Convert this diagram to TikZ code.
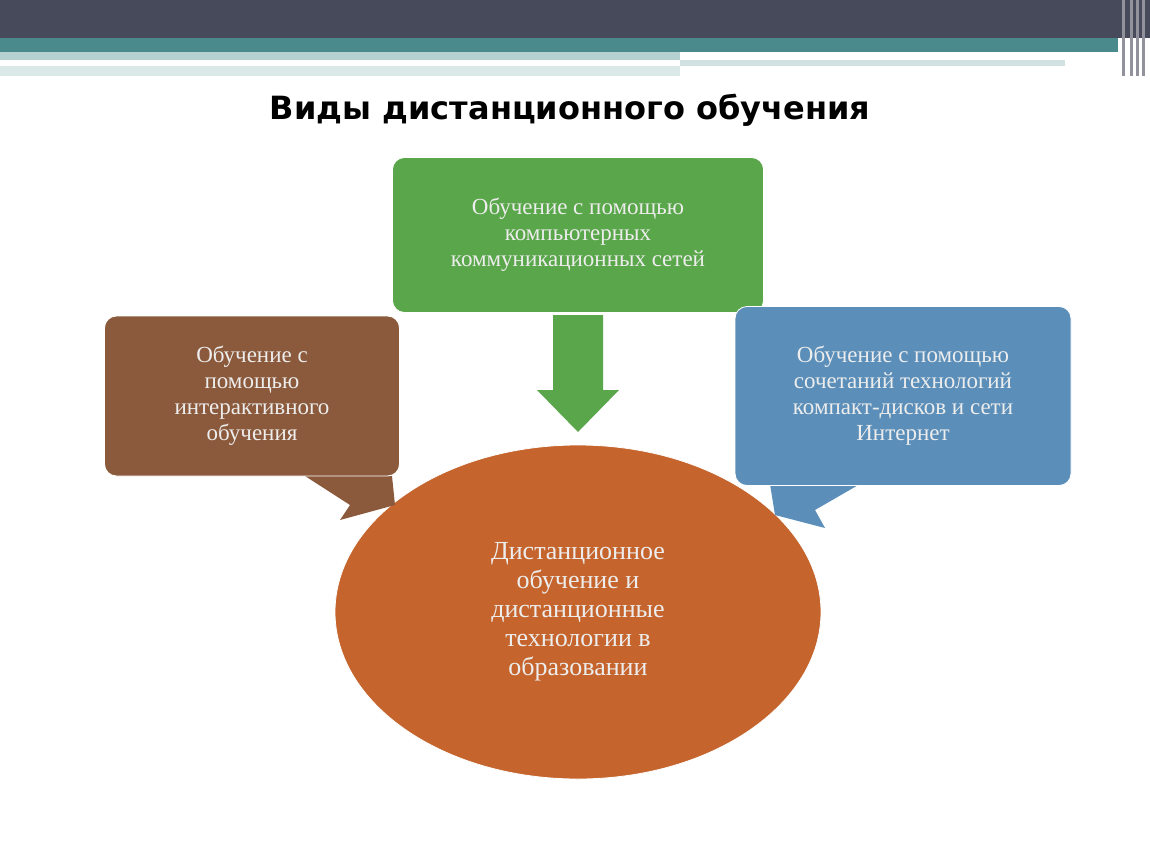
\documentclass[tikz,border=0pt]{standalone}
\usepackage{fontspec}
\setmainfont{Liberation Serif}
\newfontfamily\titlefont{DejaVu Sans}
\usetikzlibrary{positioning,shapes.geometric}
\definecolor{barGray}{HTML}{474A5A}
\definecolor{barTeal}{HTML}{4A8A8C}
\definecolor{netGreen}{HTML}{5AA64A}
\definecolor{boxBrown}{HTML}{8B5A3C}
\definecolor{boxBlue}{HTML}{5B8FB9}
\definecolor{coreOrange}{HTML}{C5652D}
\definecolor{boxText}{HTML}{EDEDED}
\begin{document}
\begin{tikzpicture}
	[x=1pt,y=-1pt,
	TypeBox/.style={rounded corners=12pt,draw=white,thick,text=boxText,align=center,
		font=\fontsize{23}{26}\selectfont},
	CoreNode/.style={ellipse,draw=white,thick,fill=coreOrange,text=boxText,align=center,
		font=\fontsize{26}{29}\selectfont}]
	
	% page and top bar
	\fill[white] (0,0) rectangle (1150,864);
	\fill[barGray] (0,0) rectangle (1150,38);
	\fill[barTeal] (0,38) rectangle (1118,52);
	\fill[barTeal!40] (0,52) rectangle (680,60);
	\fill[barTeal!25] (680,60) rectangle (1065,66);
	\fill[barTeal!20] (0,66) rectangle (680,76);
	\foreach \x in {1122,1130,1136,1142}
	\fill[barGray!60] (\x,0) rectangle (\x+3,76);
	
	% title
	\node (title) at (570,110) {\titlefont\bfseries\fontsize{32}{36}\selectfont Виды дистанционного обучения};
	
	% central ellipse
	\node[CoreNode,minimum width=486pt,minimum height=334pt] (core) at (578,612)
	{Дистанционное\\обучение и\\дистанционные\\технологии в\\образовании};
	
	% green box and arrow
	\node[TypeBox,fill=netGreen,minimum width=371pt,minimum height=155pt] (net) at (578,235)
	{Обучение с помощью\\компьютерных\\коммуникационных сетей};
	\fill[netGreen] (553,315) -- (603,315) -- (603,390) -- (619,390) -- (578,432)
	-- (537,390) -- (553,390) -- cycle;
	
	% brown box with tail
	\fill[boxBrown] (305,476) -- (392,476) -- (395,505) -- (340,520) -- (350,505) -- cycle;
	\node[TypeBox,fill=boxBrown,minimum width=295pt,minimum height=160pt] (inter) at (252,396)
	{Обучение с\\помощью\\интерактивного\\обучения};
	
	% blue box with tail
	\fill[boxBlue] (770,484) -- (860,484) -- (815,510) -- (825,528) -- (775,515) -- cycle;
	\node[TypeBox,fill=boxBlue,minimum width=336pt,minimum height=179pt] (cd) at (903,396)
	{Обучение с помощью\\сочетаний технологий\\компакт-дисков и сети\\Интернет};
\end{tikzpicture}
\end{document}
